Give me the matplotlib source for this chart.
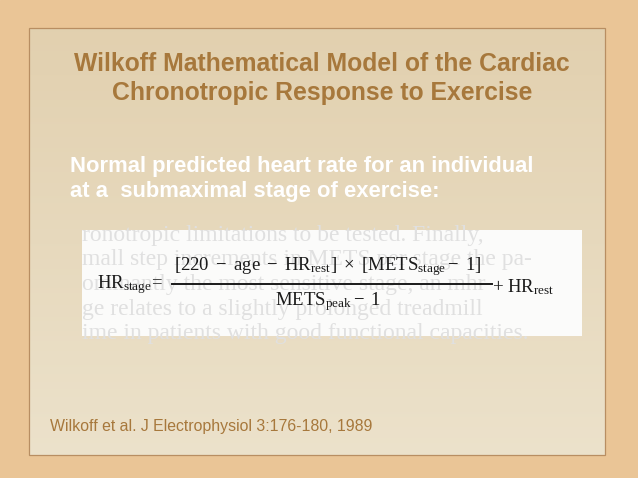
import matplotlib.pyplot as plt
import matplotlib.patches as mpatches
import numpy as np

plt.rcParams['mathtext.fontset'] = 'custom'
plt.rcParams['mathtext.rm'] = 'Liberation Serif'
plt.rcParams['mathtext.it'] = 'Liberation Serif:italic'

# Тексти слайда
title_lines = ["Wilkoff Mathematical Model of the Cardiac",
               "Chronotropic Response to Exercise"]
body_lines = ["Normal predicted heart rate for an individual",
              "at a  submaximal stage of exercise:"]
citation = "Wilkoff et al. J Electrophysiol 3:176-180, 1989"
scan_lines = ["ronotropic limitations to be tested. Finally,",
              "mall step increments in METS per stage the pa-",
              "ominantly the most sensitive stage, an mhr",
              "ge relates to a slightly prolonged treadmill",
              "ime in patients with good functional capacities."]

W, H = 638, 478
fig = plt.figure(figsize=(W / 100, H / 100), dpi=100)
ax = fig.add_axes([0, 0, 1, 1])
ax.set_xlim(0, W)
ax.set_ylim(H, 0)
ax.axis('off')

# фон
ax.add_patch(mpatches.Rectangle((0, 0), W, H, color='#eac596', zorder=0))

# папір з градієнтом
grad = np.linspace(0, 1, 200).reshape(-1, 1)
top = np.array([0.886, 0.816, 0.686])
bot = np.array([0.925, 0.885, 0.795])
img = top + (bot - top) * grad[..., None] * np.ones((1, 2, 1))
px0, py0, px1, py1 = 29, 28, 605, 455
ax.imshow(img, extent=(px0, px1, py1, py0), aspect='auto', zorder=1)
ax.add_patch(mpatches.Rectangle((px0, py0), px1 - px0, py1 - py0, fill=False,
                                edgecolor='#b88e62', linewidth=0.9, zorder=2))

# заголовок
for i, line in enumerate(title_lines):
    ax.text(322, 71 + i * 29, line, ha='center', va='baseline', fontsize=17.8,
            fontweight='bold', family='Liberation Sans', color='#a7783c', zorder=3)

# основний текст
for i, line in enumerate(body_lines):
    ax.text(70, 172 + i * 24.5, line, ha='left', va='baseline', fontsize=15.8,
            fontweight='bold', family='Liberation Sans', color='white', zorder=3)

# біла рамка з формулою
box = mpatches.Rectangle((82, 230), 500, 106, facecolor='#fbfbfa',
                         edgecolor='none', zorder=3)
ax.add_patch(box)
for i, line in enumerate(scan_lines):
    t = ax.text(82, 241 + i * 24.5, line, ha='left', va='baseline', fontsize=17,
                family='Liberation Serif', color='#e0e0e0', zorder=4)
    t.set_clip_path(box)

fc = '#1a1a1a'
fs = 13.5
ax.text(97, 288, r'$\mathrm{HR}_{\mathrm{stage}}\!=$', ha='left', va='baseline',
        fontsize=fs, color=fc, zorder=5)
ax.text(328, 270, r'$[220\ -\ \mathrm{age}\ -\ \mathrm{HR}_{\mathrm{rest}}]\ \times\ [\mathrm{METS}_{\mathrm{stage}} -\ 1]$',
        ha='center', va='baseline', fontsize=fs, color=fc, zorder=5)
ax.plot([172, 492], [284, 284], color=fc, linewidth=1.4, zorder=5)
ax.text(328, 305, r'$\mathrm{METS}_{\mathrm{peak}} -\ 1$', ha='center', va='baseline',
        fontsize=fs, color=fc, zorder=5)
ax.text(492, 292, r'$+\ \mathrm{HR}_{\mathrm{rest}}$', ha='left', va='baseline',
        fontsize=fs, color=fc, zorder=5)

# джерело
ax.text(50, 431, citation, ha='left', va='baseline', fontsize=11.4,
        family='Liberation Sans', color='#a7783c', zorder=3)

fig.savefig('out.png', dpi=100)
